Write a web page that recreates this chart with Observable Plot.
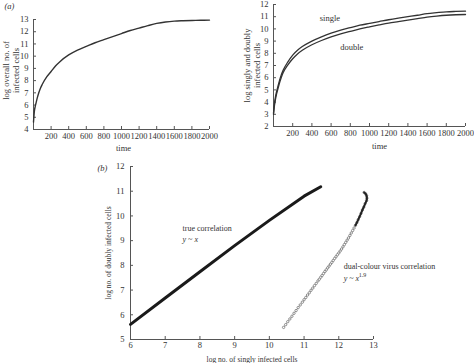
<!DOCTYPE html>
<html><head><meta charset="utf-8">
<script src="https://cdn.jsdelivr.net/npm/d3@7"></script>
<script src="https://cdn.jsdelivr.net/npm/@observablehq/plot@0.6"></script>
<style>
body{margin:0;background:#fff;}
#wrap{position:relative;width:474px;height:363px;overflow:hidden;font-family:"Liberation Serif",serif;background:#fff;}
#wrap svg{position:absolute;overflow:visible;}
</style></head><body><div id="wrap"></div>
<script>
// ---- data ----
const times = [0,10,20,30,40,60,80,100,150,200,250,300,400,500,600,700,800,900,1000,1100,1200,1300,1400,1500,1600,1700,1800,1900,2000];
const overall = [4.6,5.5,5.9,6.2,6.5,7.0,7.4,7.7,8.3,8.75,9.2,9.55,10.1,10.5,10.8,11.1,11.35,11.6,11.85,12.1,12.3,12.5,12.68,12.8,12.87,12.9,12.92,12.94,12.95];
const singly = [3.1,3.9,4.4,4.8,5.1,5.7,6.2,6.6,7.3,7.85,8.25,8.55,9.0,9.35,9.65,9.9,10.1,10.3,10.45,10.6,10.75,10.88,11.0,11.12,11.25,11.33,11.4,11.43,11.45];
const doubly = [3.0,3.7,4.2,4.6,4.9,5.5,6.0,6.4,7.05,7.55,7.95,8.25,8.7,9.05,9.35,9.6,9.8,10.0,10.17,10.33,10.48,10.6,10.72,10.84,10.96,11.05,11.12,11.16,11.18];
const timeTicks = [200,400,600,800,1000,1200,1400,1600,1800,2000];
const a1YTicks = [4,5,6,7,8,9,10,11,12,13];
const a2YTicks = [2,3,4,5,6,7,8,9,10,11,12];
const bXTicks = [6,7,8,9,10,11,12,13];
const bYTicks = [5,6,7,8,9,10,11,12];
const trueX = [6,7,8,9,10,11,11.48];
const trueY = [5.61,6.68,7.74,8.8,9.82,10.8,11.18];
const dualX = [10.41,10.47,10.53,10.59,10.65,10.71,10.77,10.83,10.89,10.95,11.00,11.05,11.10,11.15,11.20,11.25,11.30,11.35,11.40,11.44,11.48,11.52,11.56,11.60,11.64,11.68,11.72,11.76,11.80,11.84,11.88,11.92,11.96,12.00,12.04,12.08,12.12,12.16,12.20,12.24,12.28,12.32,12.36,12.40,12.44,12.48,12.52,12.56,12.60,12.64,12.68,12.72,12.76,12.80,12.81,12.80,12.77,12.73];
const dualY = [5.49,5.60,5.72,5.83,5.94,6.06,6.17,6.29,6.40,6.51,6.61,6.70,6.80,6.89,6.99,7.08,7.18,7.27,7.37,7.44,7.52,7.59,7.67,7.75,7.82,7.90,7.97,8.05,8.12,8.20,8.28,8.35,8.43,8.50,8.58,8.66,8.75,8.84,8.93,9.02,9.11,9.21,9.31,9.41,9.51,9.62,9.73,9.85,9.97,10.10,10.24,10.36,10.50,10.62,10.72,10.82,10.90,10.95];

const tsA1 = times.map((t,i)=>({t, v: overall[i]}));
const tsA2 = times.flatMap((t,i)=>[{t, v: singly[i], s:"single"},{t, v: doubly[i], s:"double"}]);
const trueData = trueX.map((x,i)=>({x, y: trueY[i]}));
const dualData = dualX.map((x,i)=>({x, y: dualY[i]}));

const wrap = document.getElementById("wrap");
const FONT = "Liberation Serif";
const ink = "#333";
const axisStroke = "#555";
const fmt = d => String(d);
function place(svg, left, top){ svg.style.left = left+"px"; svg.style.top = top+"px"; wrap.appendChild(svg); }
const baseStyle = {fontFamily: FONT, fontSize: "8.5px", background: "transparent", color: ink};

// ---- panel (a) left ----
const a1 = Plot.plot({
  width: 230, height: 160,
  marginLeft: 33, marginRight: 21, marginTop: 19, marginBottom: 31,
  style: baseStyle,
  x: {domain: [0, 2000]}, y: {domain: [4, 13]},
  marks: [
    Plot.ruleX([0], {stroke: axisStroke}),
    Plot.ruleY([4], {stroke: axisStroke}),
    Plot.axisX({ticks: timeTicks, tickFormat: fmt, tickSize: -3, tickPadding: 6, label: null, stroke: axisStroke}),
    Plot.axisY({ticks: a1YTicks, tickFormat: fmt, tickSize: -3, tickPadding: 8, label: null, stroke: axisStroke}),
    Plot.line(tsA1, {x: "t", y: "v", stroke: "#333", strokeWidth: 1.4, curve: "monotone-x"}),
    Plot.text(["log overall no. of\ninfected cells"], {text: d=>d, frameAnchor: "left", textAnchor: "middle", rotate: -90, dx: -23, dy: -4, lineHeight: 1.15, fontSize: 8.5}),
    Plot.text(["time"], {text: d=>d, frameAnchor: "bottom", dy: 21, dx: 2, fontSize: 8.5}),
    Plot.text(["(a)"], {text: d=>d, frameAnchor: "top-left", dx: -29, dy: -17, textAnchor: "start", fontStyle: "italic", fontSize: 8.5})
  ]
});
place(a1, 0, 0);

// ---- panel (a) right ----
const a2 = Plot.plot({
  width: 234, height: 160,
  marginLeft: 33, marginRight: 9, marginTop: 4, marginBottom: 34,
  style: baseStyle,
  x: {domain: [0, 2000]}, y: {domain: [2, 12]},
  marks: [
    Plot.ruleX([0], {stroke: axisStroke}),
    Plot.ruleY([2], {stroke: axisStroke}),
    Plot.axisX({ticks: timeTicks, tickFormat: fmt, tickSize: -3, tickPadding: 6, label: null, stroke: axisStroke}),
    Plot.axisY({ticks: a2YTicks, tickFormat: fmt, tickSize: -3, tickPadding: 8, label: null, stroke: axisStroke}),
    Plot.line(tsA2, {x: "t", y: "v", z: "s", stroke: "#333", strokeWidth: 1.3, curve: "monotone-x"}),
    Plot.text(["single"], {text: d=>d, x: 588, y: 10.85, fontSize: 8.5}),
    Plot.text(["double"], {text: d=>d, x: 815, y: 8.48, fontSize: 8.5}),
    Plot.text(["log singly and doubly\ninfected cells"], {text: d=>d, frameAnchor: "left", textAnchor: "middle", rotate: -90, dx: -22, lineHeight: 1.15, fontSize: 8.5}),
    Plot.text(["time"], {text: d=>d, frameAnchor: "bottom", dy: 22, dx: 10, fontSize: 8.5})
  ]
});
place(a2, 240, 0);

// ---- panel (b) ----
const b = Plot.plot({
  width: 414, height: 203,
  marginLeft: 70, marginRight: 101, marginTop: 6, marginBottom: 24,
  style: baseStyle,
  x: {domain: [6, 13]}, y: {domain: [5, 12]},
  marks: [
    Plot.ruleX([6], {stroke: axisStroke}),
    Plot.ruleY([5], {stroke: axisStroke}),
    Plot.axisX({ticks: bXTicks, tickFormat: fmt, tickSize: -3, tickPadding: 5, label: null, stroke: axisStroke}),
    Plot.axisY({ticks: bYTicks, tickFormat: fmt, tickSize: -3, tickPadding: 9, label: null, stroke: axisStroke}),
    Plot.line(trueData, {x: "x", y: "y", stroke: "#1a1a1a", strokeWidth: 3}),
    Plot.line(dualData, {x: "x", y: "y", stroke: "#999", strokeWidth: 0.8}),
    Plot.dot(dualData, {x: "x", y: "y", r: 1.2, stroke: "#666", fill: "#fff", strokeWidth: 0.7}),
    Plot.line(dualData.filter(d=>d.y >= 9.6), {x: "x", y: "y", stroke: "#222", strokeWidth: 2, curve: "catmull-rom"}),
    Plot.text(["true correlation"], {text: d=>d, x: 7.5, y: 9.5, textAnchor: "start", fontSize: 8}),
    Plot.text(["y ~ x"], {text: d=>d, x: 7.5, y: 9.06, textAnchor: "start", fontSize: 8, fontStyle: "italic"}),
    Plot.text(["dual-colour virus correlation"], {text: d=>d, x: 12.14, y: 7.97, textAnchor: "start", fontSize: 8}),
    Plot.text(["y ~ x"], {text: d=>d, x: 12.14, y: 7.48, textAnchor: "start", fontSize: 8, fontStyle: "italic"}),
    Plot.text(["1.9"], {text: d=>d, x: 12.14, y: 7.48, dx: 15, dy: -3, textAnchor: "start", fontSize: 6}),
    Plot.text(["log no. of doubly infected cells"], {text: d=>d, frameAnchor: "left", textAnchor: "middle", rotate: -90, dx: -22, fontSize: 7.5}),
    Plot.text(["log no. of singly infected cells"], {text: d=>d, frameAnchor: "bottom", dy: 22, fontSize: 7.5}),
    Plot.text(["(b)"], {text: d=>d, frameAnchor: "top-left", dx: -33, dy: -2, fontStyle: "italic", fontSize: 8.5})
  ]
});
place(b, 60, 160);
</script></body></html>
